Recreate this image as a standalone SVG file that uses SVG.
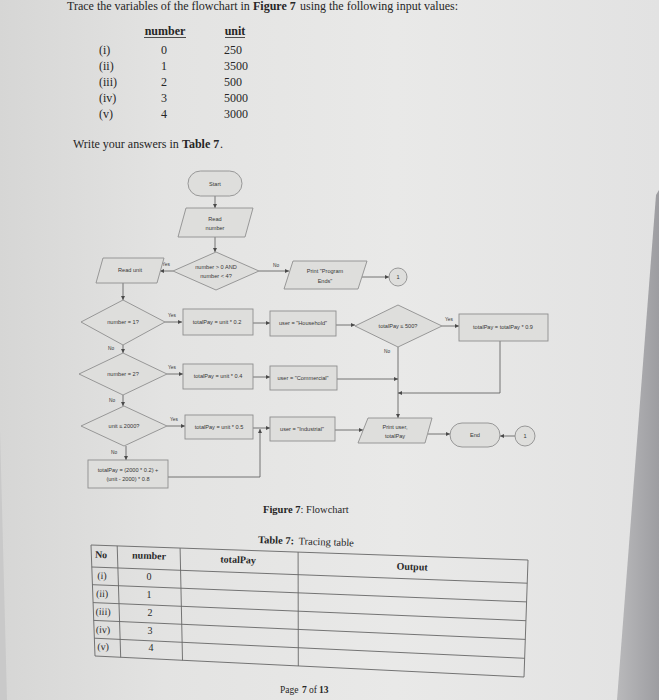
<svg xmlns="http://www.w3.org/2000/svg" width="659" height="700" viewBox="0 0 659 700">
<defs>
<linearGradient id="bg" x1="0" y1="0" x2="1" y2="0">
<stop offset="0" stop-color="#d6d6d5"/>
<stop offset="0.25" stop-color="#e3e3e2"/>
<stop offset="0.6" stop-color="#e9e9e8"/>
<stop offset="1" stop-color="#e2e2e2"/>
</linearGradient>
<linearGradient id="edge" x1="0" y1="0" x2="1" y2="0">
<stop offset="0" stop-color="#b9b9bb"/>
<stop offset="1" stop-color="#9d9da1"/>
</linearGradient>
<marker id="ah" viewBox="0 0 6 6" markerWidth="4" markerHeight="4" refX="6" refY="3" orient="auto" markerUnits="userSpaceOnUse">
<path d="M0,0 L6,3 L0,6 z" fill="#4a4a4a"/>
</marker>
<style>
.serif{font-family:"Liberation Serif","Times New Roman",serif;fill:#262626}
.b{font-weight:bold}
.fc{font-family:"Liberation Sans",Arial,sans-serif;font-size:5.6px;fill:#363636;text-anchor:middle}
.shape{fill:#dededc;stroke:#8e8e8e;stroke-width:0.9}
.conn{fill:none;stroke:#555;stroke-width:0.8}
.arr{marker-end:url(#ah)}
.lbl{font-family:"Liberation Sans",Arial,sans-serif;font-size:4.8px;fill:#363636}
.tl{fill:none;stroke:#666;stroke-width:0.9}
.tt{font-family:"Liberation Serif","Times New Roman",serif;font-size:10px;fill:#2a2a2a;text-anchor:middle}
</style>
</defs>
<rect x="0" y="0" width="659" height="700" fill="url(#bg)"/>
<polygon points="656,195 659,190 659,700 617,700" fill="url(#edge)"/>
<polygon points="0,430 7,700 0,700" fill="#c9c9c9"/>

<!-- Header text -->
<g id="header">
<text class="serif" x="67" y="10" font-size="12">Trace the variables of the flowchart in</text>
<text class="serif b" x="253" y="10" font-size="12">Figure 7</text>
<text class="serif" x="300" y="10" font-size="12">using the following input values:</text>
<text class="serif b" x="165" y="35" font-size="12" text-anchor="middle">number</text>
<text class="serif b" x="235" y="35" font-size="12" text-anchor="middle">unit</text>
<line x1="144" y1="37.5" x2="186" y2="37.5" stroke="#262626" stroke-width="0.8"/>
<line x1="225" y1="37.5" x2="245" y2="37.5" stroke="#262626" stroke-width="0.8"/>
<g class="serif" font-size="12">
<text x="99" y="54">(i)</text><text x="164" y="54" text-anchor="middle">0</text><text x="224" y="54">250</text>
<text x="99" y="70">(ii)</text><text x="164" y="70" text-anchor="middle">1</text><text x="224" y="70">3500</text>
<text x="99" y="86">(iii)</text><text x="164" y="86" text-anchor="middle">2</text><text x="224" y="86">500</text>
<text x="99" y="102">(iv)</text><text x="164" y="102" text-anchor="middle">3</text><text x="224" y="102">5000</text>
<text x="99" y="118">(v)</text><text x="164" y="118" text-anchor="middle">4</text><text x="224" y="118">3000</text>
</g>
<text class="serif" x="73" y="148" font-size="12">Write your answers in</text>
<text class="serif b" x="182" y="148" font-size="12">Table 7</text>
<text class="serif" x="220" y="148" font-size="12">.</text>
</g>

<!-- Connectors -->
<g id="connectors">
<line class="conn arr" x1="215" y1="196" x2="215" y2="208"/>
<line class="conn arr" x1="215" y1="237" x2="215" y2="252"/>
<line class="conn arr" x1="173" y1="271" x2="160" y2="271"/>
<line class="conn arr" x1="259" y1="271" x2="289" y2="271"/>
<line class="conn arr" x1="362" y1="277" x2="389" y2="277"/>
<line class="conn arr" x1="123" y1="283" x2="123" y2="300"/>
<line class="conn arr" x1="165" y1="322" x2="182" y2="322"/>
<line class="conn arr" x1="253" y1="323" x2="270" y2="323"/>
<line class="conn arr" x1="336" y1="325" x2="355" y2="325"/>
<line class="conn arr" x1="442" y1="326" x2="459" y2="326"/>
<polyline class="conn arr" points="500,341 500,393 398,393"/>
<line class="conn arr" x1="398" y1="347" x2="398" y2="418"/>
<line class="conn arr" x1="123" y1="345" x2="123" y2="353"/>
<line class="conn arr" x1="167" y1="374" x2="183" y2="374"/>
<line class="conn arr" x1="253" y1="377" x2="270" y2="377"/>
<line class="conn arr" x1="337" y1="379" x2="398" y2="379"/>
<line class="conn arr" x1="123" y1="395" x2="123" y2="406"/>
<line class="conn arr" x1="167" y1="426" x2="185" y2="426"/>
<line class="conn arr" x1="253" y1="428" x2="270" y2="428"/>
<line class="conn arr" x1="335" y1="430" x2="363" y2="430"/>
<line class="conn arr" x1="428" y1="434" x2="450" y2="434"/>
<line class="conn arr" x1="515" y1="436" x2="500" y2="436"/>
<line class="conn arr" x1="126" y1="446" x2="126" y2="460"/>
<polyline class="conn arr" points="168,477 260,477 260,429"/>
<text class="lbl" x="162" y="266">Yes</text>
<text class="lbl" x="273" y="267">No</text>
<text class="lbl" x="168" y="317">Yes</text>
<text class="lbl" x="108" y="350">No</text>
<text class="lbl" x="168" y="369">Yes</text>
<text class="lbl" x="109" y="402">No</text>
<text class="lbl" x="170" y="421">Yes</text>
<text class="lbl" x="111" y="454">No</text>
<text class="lbl" x="445" y="321">Yes</text>
<text class="lbl" x="384" y="353">No</text>
</g>

<!-- Nodes -->
<g id="start"><rect class="shape" x="188" y="171" width="54" height="25" rx="12.5"/><text class="fc" x="215" y="186">Start</text></g>
<g id="read-number"><polygon class="shape" points="186,208 253,208 245,237 178,237"/><text class="fc" x="215" y="221">Read</text><text class="fc" x="215" y="230">number</text></g>
<g id="check-number"><polygon class="shape" points="216,252 259,271 216,290 173,271"/><text class="fc" x="216" y="269">number &gt; 0 AND</text><text class="fc" x="216" y="278">number &lt; 4?</text></g>
<g id="read-unit"><polygon class="shape" points="103,258 164,258 157,283 96,283"/><text class="fc" x="130" y="272">Read unit</text></g>
<g id="print-ends"><polygon class="shape" points="293,261 367,261 358,289 284,289"/><text class="fc" x="325" y="273">Print "Program</text><text class="fc" x="325" y="283">Ends"</text></g>
<g id="conn-1a"><circle class="shape" cx="398" cy="277" r="9"/><text class="fc" x="398" y="279">1</text></g>
<g id="is-1"><polygon class="shape" points="123,300 165,322 123,345 81,322"/><text class="fc" x="123" y="324">number = 1?</text></g>
<g id="pay-02"><rect class="shape" x="183" y="309" width="70" height="26"/><text class="fc" x="217" y="324">totalPay = unit * 0.2</text></g>
<g id="household"><rect class="shape" x="270" y="311" width="66" height="25"/><text class="fc" x="303" y="325">user = "Household"</text></g>
<g id="check-500"><polygon class="shape" points="398,305 442,326 398,347 355,326"/><text class="fc" x="398" y="328">totalPay ≤ 500?</text></g>
<g id="pay-09"><rect class="shape" x="459" y="314" width="89" height="27"/><text class="fc" x="503" y="329">totalPay = totalPay * 0.9</text></g>
<g id="is-2"><polygon class="shape" points="123,353 167,374 123,395 79,374"/><text class="fc" x="123" y="376">number = 2?</text></g>
<g id="pay-04"><rect class="shape" x="183" y="364" width="70" height="25"/><text class="fc" x="218" y="378">totalPay = unit * 0.4</text></g>
<g id="commercial"><rect class="shape" x="270" y="366" width="67" height="24"/><text class="fc" x="303" y="380">user = "Commercial"</text></g>
<g id="unit-2000"><polygon class="shape" points="124,406 167,426 124,446 81,426"/><text class="fc" x="124" y="428">unit ≤ 2000?</text></g>
<g id="pay-05"><rect class="shape" x="185" y="415" width="68" height="24"/><text class="fc" x="219" y="429">totalPay = unit * 0.5</text></g>
<g id="industrial"><rect class="shape" x="270" y="417" width="65" height="24"/><text class="fc" x="302" y="431">user = "Industrial"</text></g>
<g id="pay-08"><rect class="shape" x="88" y="460" width="80" height="28"/><text class="fc" x="128" y="472">totalPay = (2000 * 0.2) +</text><text class="fc" x="128" y="481">(unit - 2000) * 0.8</text></g>
<g id="print-user"><polygon class="shape" points="368,418 432,418 425,443 358,443"/><text class="fc" x="395" y="429">Print user,</text><text class="fc" x="395" y="438">totalPay</text></g>
<g id="end"><rect class="shape" x="450" y="423" width="50" height="24" rx="12"/><text class="fc" x="475" y="437">End</text></g>
<g id="conn-1b"><circle class="shape" cx="525" cy="436" r="10"/><text class="fc" x="525" y="438">1</text></g>

<text class="serif b" x="263" y="513" font-size="10.5">Figure 7</text>
<text class="serif" x="300.5" y="513" font-size="10.5">: Flowchart</text>

<!-- Table -->
<g id="table">
<text class="serif b" x="258" y="543" font-size="10.5" transform="rotate(2 258 543)">Table 7:</text>
<text class="serif" x="298.5" y="544.4" font-size="10.5" transform="rotate(2 298.5 544.4)">Tracing table</text>
<polygon class="tl" points="91,545 528,560 524,677 95,656"/>
<line class="tl" x1="91.8" y1="567" x2="527.2" y2="583.2"/>
<line class="tl" x1="92.4" y1="584.7" x2="526.6" y2="601.9"/>
<line class="tl" x1="93.1" y1="602.6" x2="525.9" y2="620.7"/>
<line class="tl" x1="93.7" y1="620.4" x2="525.3" y2="639.4"/>
<line class="tl" x1="94.4" y1="638.2" x2="524.6" y2="658.3"/>
<line class="tl" x1="117.2" y1="545.9" x2="120.7" y2="657.3"/>
<line class="tl" x1="180.1" y1="548.1" x2="182.5" y2="660.3"/>
<line class="tl" x1="298.1" y1="552.1" x2="298.3" y2="666"/>
<text class="tt b" x="101" y="558" transform="rotate(2 101 558)">No</text>
<text class="tt b" x="149" y="559" transform="rotate(2 149 559)">number</text>
<text class="tt b" x="238" y="563" transform="rotate(2 238 563)">totalPay</text>
<text class="tt b" x="412" y="570" transform="rotate(2 412 570)">Output</text>
<text class="tt" x="102" y="579" font-size="9" transform="rotate(2 102 579)">(i)</text>
<text class="tt" x="102" y="597" font-size="9" transform="rotate(2 102 597)">(ii)</text>
<text class="tt" x="103" y="615" font-size="9" transform="rotate(2 103 615)">(iii)</text>
<text class="tt" x="103" y="633" font-size="9" transform="rotate(2 103 633)">(iv)</text>
<text class="tt" x="103" y="650" font-size="9" transform="rotate(2 103 650)">(v)</text>
<text class="tt" x="149" y="580" font-size="9">0</text>
<text class="tt" x="149" y="598" font-size="9">1</text>
<text class="tt" x="150" y="616" font-size="9">2</text>
<text class="tt" x="150" y="634" font-size="9">3</text>
<text class="tt" x="151" y="651" font-size="9">4</text>
</g>
<g id="footer">
<text class="serif" x="280" y="693" font-size="9.5">Page</text>
<text class="serif b" x="302" y="693" font-size="9.5">7</text>
<text class="serif" x="309" y="693" font-size="9.5">of</text>
<text class="serif b" x="319" y="693" font-size="9.5">13</text>
</g>
</svg>
